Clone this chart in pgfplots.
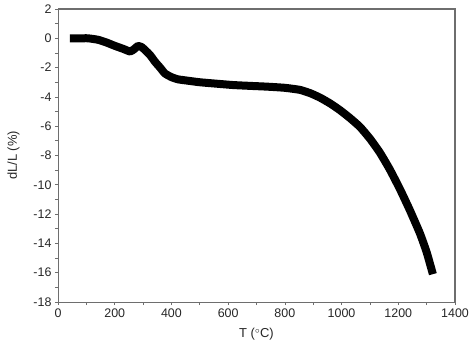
\documentclass[border=0pt]{standalone}
\usepackage{fontspec}
\setmainfont{Liberation Sans}
\usepackage{pgfplots}
\pgfplotsset{compat=1.18}
\definecolor{axgray}{RGB}{110,110,110}
\begin{document}
\begin{tikzpicture}
\begin{axis}[
  scale only axis,
  width=397bp, height=293bp,
  xmin=0, xmax=1400, ymin=-18, ymax=2,
  xtick={0,200,...,1400},
  ytick={-18,-16,...,2},
  minor x tick num=1,
  minor y tick num=1,
  tick align=outside,
  major tick length=3bp,
  minor tick length=3bp,
  xtick pos=left, ytick pos=left,
  axis line style={axgray, line width=1pt},
  every tick/.style={axgray, line width=0.7pt},
  tick label style={font=\fontsize{12.5}{14}\selectfont, text=black!85},
  label style={font=\fontsize{13}{15}\selectfont, text=black!85},
  /pgf/number format/assume math mode=true,
  /pgf/number format/set thousands separator={},
  xlabel={T ($^{\circ}$C)},
  ylabel={dL/L (\%)},
  ylabel style={yshift=7bp},
  xlabel style={yshift=-4bp},
]
\addplot[black, line width=8bp, line join=round, smooth, tension=0.3] coordinates {
(42,0) (80,0) (106,0) (141,-0.1) (170,-0.28) (201,-0.52) (230,-0.72) (254,-0.9) (268,-0.75) (282,-0.52) (295,-0.6) (307,-0.8) (325,-1.15) (342,-1.6) (360,-2.0) (377,-2.4) (400,-2.65) (423,-2.8) (460,-2.9) (500,-3.0) (560,-3.1) (617,-3.19) (680,-3.25) (737,-3.3) (800,-3.38) (853,-3.52) (890,-3.75) (924,-4.05) (960,-4.45) (994,-4.9) (1030,-5.45) (1065,-6.05) (1100,-6.85) (1135,-7.8) (1170,-8.95) (1206,-10.3) (1240,-11.7) (1276,-13.3) (1300,-14.6) (1322,-16.1)
};
\coordinate (sw) at (rel axis cs:0,0);
\coordinate (ne) at (rel axis cs:1,1);
\end{axis}
\draw[draw=axgray, line width=2pt] (sw |- ne) -- (ne) -- (ne |- sw);
\useasboundingbox ([xshift=-58bp,yshift=-53bp]sw) rectangle ([xshift=19bp,yshift=9bp]ne);
\end{tikzpicture}
\end{document}
